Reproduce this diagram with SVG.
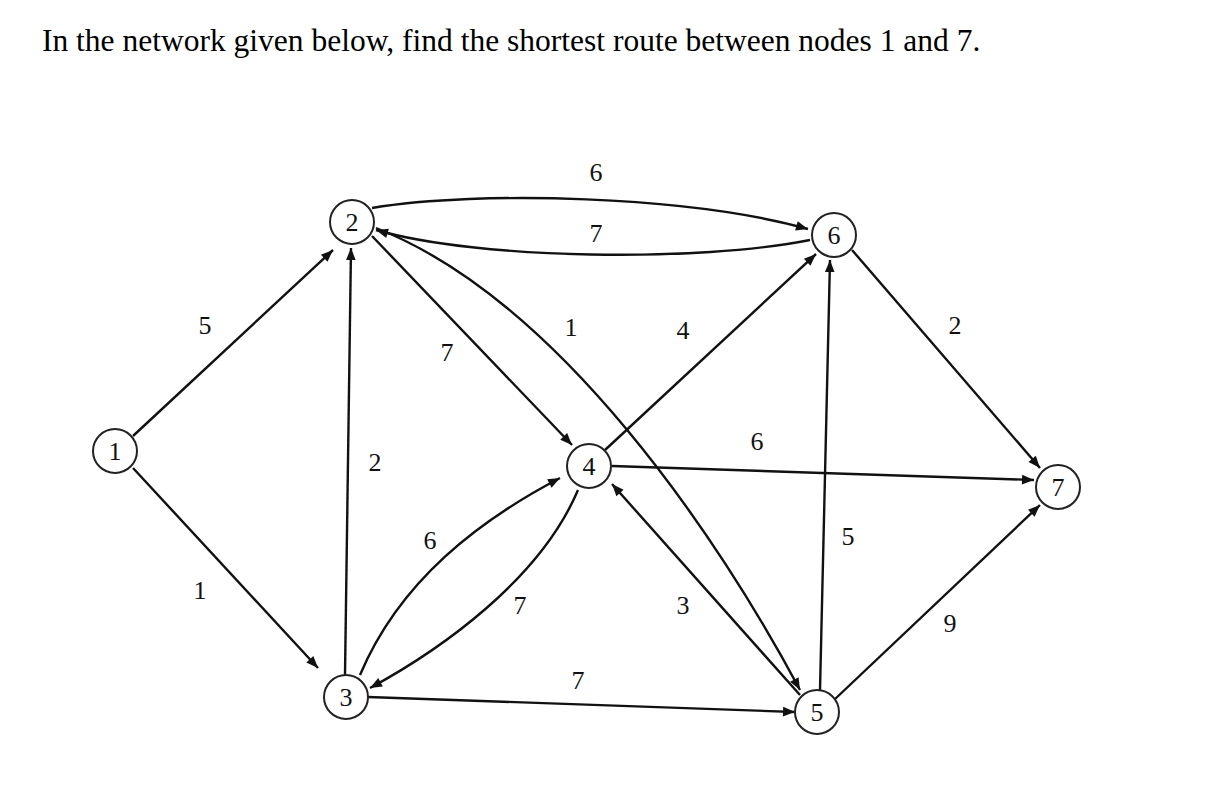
<svg xmlns="http://www.w3.org/2000/svg" width="1208" height="786" viewBox="0 0 1208 786">
<style>
.n circle{fill:#fff;stroke:#222;stroke-width:2}
.n text,.l{font-family:"Liberation Serif",serif;font-size:26px;fill:#111;text-anchor:middle}
.e path{fill:none;stroke:#111;stroke-width:2.4;marker-end:url(#a)}
</style>
<defs><marker id="a" viewBox="0 0 10 10" refX="10" refY="5" markerWidth="14" markerHeight="12" orient="auto" markerUnits="userSpaceOnUse"><path d="M0,1 L10,5 L0,9 Z" fill="#111"/></marker></defs>
<rect width="1208" height="786" fill="#fff"/>
<text x="42" y="51" style="font-family:'Liberation Serif',serif;font-size:31.5px;fill:#000">In the network given below, find the shortest route between nodes 1 and 7.</text>
<g class="e">
<path d="M133,436 L333,250"/>
<path d="M133,468 L318,668"/>
<path d="M345,675 L351,248"/>
<path d="M372,236 L572,445"/>
<path d="M372,208 C480,190 690,196 808,229"/>
<path d="M810,240 C700,262 480,260 376,230"/>
<path d="M376,228 C560,300 720,540 800,690"/>
<path d="M800,695 L612,484"/>
<path d="M605,450 L816,254"/>
<path d="M612,466 L1034,480"/>
<path d="M360,675 C400,580 480,520 560,478"/>
<path d="M578,490 C540,580 440,650 370,688"/>
<path d="M368,697 L795,712"/>
<path d="M820,690 L830,260"/>
<path d="M852,250 L1040,468"/>
<path d="M834,700 L1040,505"/>
</g>
<g class="l">
<text x="205" y="334">5</text><text x="200" y="599">1</text><text x="375" y="471">2</text>
<text x="447" y="361">7</text><text x="596" y="181">6</text><text x="596" y="242">7</text>
<text x="571" y="336">1</text><text x="683" y="614">3</text><text x="683" y="339">4</text>
<text x="757" y="450">6</text><text x="430" y="549">6</text><text x="520" y="614">7</text>
<text x="578" y="689">7</text><text x="848" y="545">5</text><text x="955" y="334">2</text>
<text x="950" y="632">9</text>
</g>
<g class="n" id="n1"><circle cx="115" cy="451" r="22"/><text x="115" y="460">1</text></g>
<g class="n" id="n2"><circle cx="352" cy="222" r="22"/><text x="352" y="231">2</text></g>
<g class="n" id="n3"><circle cx="346" cy="697" r="22"/><text x="346" y="706">3</text></g>
<g class="n" id="n4"><circle cx="589" cy="466" r="22"/><text x="589" y="475">4</text></g>
<g class="n" id="n5"><circle cx="817" cy="712" r="22"/><text x="817" y="721">5</text></g>
<g class="n" id="n6"><circle cx="834" cy="235" r="22"/><text x="834" y="244">6</text></g>
<g class="n" id="n7"><circle cx="1058" cy="487" r="22"/><text x="1058" y="496">7</text></g>
</svg>
